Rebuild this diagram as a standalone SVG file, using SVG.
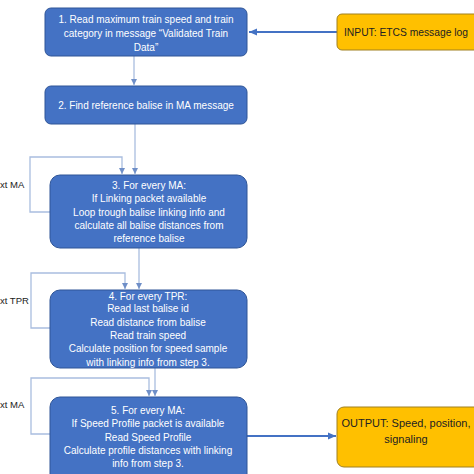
<svg xmlns="http://www.w3.org/2000/svg" width="474" height="474" viewBox="0 0 474 474">
<defs>
<style>
.b{fill:#4472c4;stroke:#2f5597;stroke-width:1}
.y{fill:#ffc000;stroke:#a08020;stroke-width:1}
.wt{font-family:"Liberation Sans",Arial,sans-serif;font-size:10px;fill:#fff;text-anchor:middle}
.dt{font-family:"Liberation Sans",Arial,sans-serif;font-size:11px;fill:#222}
.lt{font-family:"Liberation Sans",Arial,sans-serif;font-size:9.5px;fill:#222}
.c{fill:none;stroke:#a9bddf;stroke-width:1.3}
.m{fill:none;stroke:#4472c4;stroke-width:2}
</style>
<marker id="al" markerWidth="8" markerHeight="8" refX="6" refY="4" orient="auto" markerUnits="userSpaceOnUse"><path d="M0,1 L6,4 L0,7 Z" fill="#6f8fc8"/></marker>
<marker id="am" markerWidth="10" markerHeight="10" refX="8" refY="5" orient="auto" markerUnits="userSpaceOnUse"><path d="M0,1.5 L8,5 L0,8.5 Z" fill="#4472c4"/></marker>
</defs>
<rect width="474" height="474" fill="#fff"/>
<g id="connectors">
<path class="m" d="M337,32 H249" marker-end="url(#am)"/>
<path class="c" d="M134,56 V85" marker-end="url(#al)"/>
<path class="c" d="M135,124 V174" marker-end="url(#al)"/>
<path class="c" d="M50,212 H30 V157 H122 V174" marker-end="url(#al)"/>
<path class="c" d="M139,248 V289" marker-end="url(#al)"/>
<path class="c" d="M50,328 H31 V273 H125 V289" marker-end="url(#al)"/>
<path class="c" d="M155,368 V396" marker-end="url(#al)"/>
<path class="c" d="M50,434 H31 V378 H149 V396" marker-end="url(#al)"/>
<path class="m" d="M247,436 H336" marker-end="url(#am)"/>
</g>
<g id="label-loop3"><text class="lt" x="0" y="188">xt MA</text></g>
<g id="label-loop4"><text class="lt" x="0" y="304">xt TPR</text></g>
<g id="label-loop5"><text class="lt" x="0" y="408">xt MA</text></g>
<g id="input">
<rect class="y" x="337" y="14" width="150" height="36" rx="5"/>
<text class="dt" x="344" y="35.5" font-size="10" textLength="124" lengthAdjust="spacingAndGlyphs">INPUT: ETCS message log</text>
</g>
<g id="step1">
<rect class="b" x="45" y="8" width="202" height="48" rx="6"/>
<text class="wt" x="146" y="22.5">1. Read maximum train speed and train</text>
<text class="wt" x="146" y="36.5">category in message “Validated Train</text>
<text class="wt" x="146" y="50.5">Data”</text>
</g>
<g id="step2">
<rect class="b" x="45" y="86" width="202" height="38" rx="6"/>
<text class="wt" x="146" y="109">2. Find reference balise in MA message</text>
</g>
<g id="step3">
<rect class="b" x="50" y="175" width="197" height="73" rx="10"/>
<text class="wt" x="149" y="188.5">3. For every MA:</text>
<text class="wt" x="149" y="202">If Linking packet available</text>
<text class="wt" x="149" y="215.5">Loop trough balise linking info and</text>
<text class="wt" x="149" y="228.5">calculate all balise distances from</text>
<text class="wt" x="149" y="242">reference balise</text>
</g>
<g id="step4">
<rect class="b" x="50" y="290" width="197" height="78" rx="10"/>
<text class="wt" x="148" y="299.5">4. For every TPR:</text>
<text class="wt" x="148" y="312">Read last balise id</text>
<text class="wt" x="148" y="325.5">Read distance from balise</text>
<text class="wt" x="148" y="339">Read train speed</text>
<text class="wt" x="148" y="352">Calculate position for speed sample</text>
<text class="wt" x="148" y="365.5">with linking info from step 3.</text>
</g>
<g id="step5">
<rect class="b" x="50" y="397" width="197" height="90" rx="10"/>
<text class="wt" x="148" y="414">5. For every MA:</text>
<text class="wt" x="148" y="427">If Speed Profile packet is available</text>
<text class="wt" x="148" y="440.5">Read Speed Profile</text>
<text class="wt" x="148" y="454">Calculate profile distances with linking</text>
<text class="wt" x="148" y="467">info from step 3.</text>
</g>
<g id="output">
<rect class="y" x="337" y="407" width="150" height="60" rx="7"/>
<text class="dt" x="406" y="427" text-anchor="middle" font-size="10.6">OUTPUT: Speed, position,</text>
<text class="dt" x="406" y="443" text-anchor="middle" font-size="10.6">signaling</text>
</g>
</svg>
